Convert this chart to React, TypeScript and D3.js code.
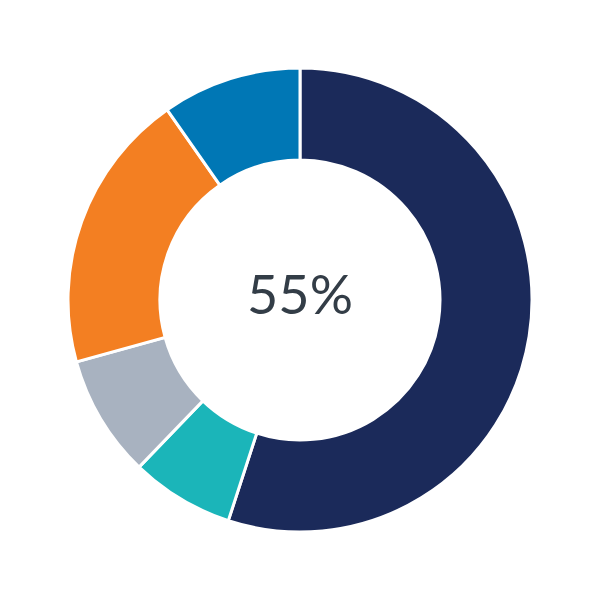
import React from "react";
import * as d3 from "d3";

const labels = ["Navy", "Teal", "Gray", "Orange", "Blue"];
const values = [55, 7.2, 8.5, 19.6, 9.7];
const colors = ["#1b2a5a", "#1bb5b9", "#a8b2c0", "#f37f22", "#0077b5"];
const centerLabel = "55%";

export default function App() {
  const width = 600;
  const height = 600;
  const outer = 232;
  const inner = 140;

  const pie = d3.pie<number>().sort(null).value(d => d);
  const arcs = pie(values);
  const arc = d3.arc<d3.PieArcDatum<number>>()
    .innerRadius(inner)
    .outerRadius(outer);

  return (
    <svg width={width} height={height}
      style={{position: "absolute", left: 0, top: 0, background: "#fff"}}>
      <g transform={`translate(${width / 2},${height / 2})`}>
        {arcs.map((a, i) => (
          <path key={labels[i]} d={arc(a) || ""} fill={colors[i]}
            stroke="#fff" strokeWidth={3} strokeLinejoin="miter"/>
        ))}
        <text textAnchor="middle" y={14} fill="#333d47"
          style={{fontFamily: "Lato", fontSize: 54}}>
          {centerLabel}
        </text>
      </g>
    </svg>
  );
}
